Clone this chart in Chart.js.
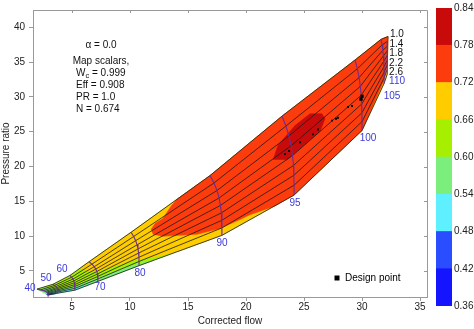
<!DOCTYPE html>
<html>
<head>
<meta charset="utf-8">
<script src="https://cdn.jsdelivr.net/npm/chart.js@4.4.1/dist/chart.umd.min.js"></script>
<style>
  body { margin: 0; background: #fff; }
  #wrap { position: relative; width: 474px; height: 329px; overflow: hidden; }
  canvas { position: absolute; top: 0; }
</style>
</head>
<body>
<div id="wrap">
  <canvas id="map" width="474" height="329" style="left:0"></canvas>
  <canvas id="cbar" width="70" height="329" style="left:420px"></canvas>
</div>
<script>
// compressor map table: one row per speed line, one column per beta line
const speeds = [40, 50, 60, 70, 80, 90, 95, 100, 105, 110];
const betas = [1.0, 1.2, 1.4, 1.6, 1.8, 2.0, 2.2, 2.4, 2.6];
const flowGrid = [
  [1.98, 2.29, 2.53, 2.70, 2.81, 2.88, 2.92, 2.93, 2.93],
  [3.36, 3.50, 3.61, 3.69, 3.74, 3.77, 3.78, 3.79, 3.79],
  [4.83, 4.97, 5.08, 5.16, 5.21, 5.24, 5.25, 5.26, 5.26],
  [6.47, 6.72, 6.92, 7.05, 7.14, 7.20, 7.23, 7.24, 7.24],
  [10.09, 10.32, 10.49, 10.61, 10.69, 10.74, 10.77, 10.78, 10.78],
  [16.90, 17.24, 17.50, 17.68, 17.80, 17.88, 17.91, 17.93, 17.93],
  [23.10, 23.44, 23.70, 23.89, 24.01, 24.09, 24.12, 24.14, 24.14],
  [29.40, 29.60, 29.75, 29.85, 29.93, 29.97, 29.99, 30.00, 30.00],
  [31.64, 31.73, 31.79, 31.84, 31.87, 31.89, 31.90, 31.90, 31.90],
  [32.24, 32.21, 32.19, 32.18, 32.17, 32.16, 32.16, 32.16, 32.16]
];
const prGrid = [
  [2.37, 2.26, 2.16, 2.05, 1.94, 1.84, 1.73, 1.63, 1.52],
  [3.07, 2.91, 2.75, 2.59, 2.44, 2.28, 2.12, 1.96, 1.80],
  [4.34, 4.08, 3.81, 3.55, 3.29, 3.02, 2.76, 2.49, 2.23],
  [6.31, 5.96, 5.60, 5.25, 4.90, 4.55, 4.20, 3.84, 3.49],
  [10.54, 9.94, 9.34, 8.74, 8.15, 7.55, 6.95, 6.35, 5.75],
  [18.70, 17.63, 16.55, 15.48, 14.41, 13.33, 12.26, 11.18, 10.11],
  [27.24, 25.82, 24.40, 22.98, 21.57, 20.15, 18.73, 17.31, 15.89],
  [35.32, 34.05, 32.79, 31.52, 30.25, 28.98, 27.72, 26.45, 25.18],
  [38.28, 37.49, 36.70, 35.90, 35.11, 34.32, 33.53, 32.73, 31.94],
  [38.70, 38.01, 37.33, 36.64, 35.96, 35.27, 34.58, 33.90, 33.21]
];

// efficiency contour bands, [flow, pr] outlines
const effLevels = [0.36, 0.42, 0.48, 0.54, 0.60, 0.66, 0.72, 0.78, 0.84];
const zoneBlue = [[2.75, 1.62], [2.93, 1.52], [3.60, 1.73], [3.10, 1.72]];
const zoneCyan = [[2.93, 1.52], [3.79, 1.80], [5.26, 2.23], [6.60, 3.08], [5.30, 2.45], [3.80, 2.00], [2.90, 1.75]];
const zoneLightGreen = [[1.98, 2.37], [2.93, 1.52], [3.79, 1.80], [5.26, 2.23], [7.24, 3.49], [9.00, 4.61],
  [10.78, 5.75], [12.00, 6.49], [10.80, 6.05], [9.00, 5.05], [7.20, 3.95], [5.30, 2.80], [3.80, 2.35], [2.70, 2.55]];
const zoneYellow = [[5.70, 5.39], [6.47, 6.31], [10.09, 10.54], [16.90, 18.70], [23.10, 27.24], [29.40, 35.32],
  [31.64, 38.28], [32.24, 38.70], [32.16, 33.21], [31.90, 31.94], [30.00, 25.18], [24.14, 15.89], [17.93, 10.11],
  [14.30, 7.90], [12.59, 7.15], [10.43, 6.59], [8.50, 5.60], [7.24, 4.95], [6.20, 5.00]];
const zoneRed = [[11.81, 10.96], [12.16, 11.80], [12.84, 12.51], [13.50, 14.20], [14.05, 15.30], [16.90, 18.70],
  [23.10, 27.24], [29.40, 35.32], [31.64, 38.28], [32.24, 38.70], [32.17, 34.40], [31.80, 32.00], [30.00, 25.18],
  [24.14, 15.89], [22.50, 14.34], [20.34, 13.07], [19.48, 12.37], [17.76, 11.10], [15.78, 10.25], [12.84, 9.97],
  [11.98, 10.25]];
const zoneDarkRed = [[22.33, 20.96], [22.76, 23.07], [24.22, 25.89], [25.52, 27.58], [26.55, 27.58],
  [26.81, 26.87], [26.38, 25.04], [24.40, 22.23], [23.53, 20.96]];

// operating line and design point
const opFlow = [23.36, 23.71, 24.66, 25.78, 26.21, 27.41, 27.76, 27.93, 28.79, 29.14];
const opPR = [21.80, 22.23, 23.49, 24.62, 25.32, 26.59, 26.87, 27.01, 28.56, 28.70];
const designFlow = [29.91, 30.00];
const designPR = [29.69, 30.10];

const xTicks = [5, 10, 15, 20, 25, 30, 35];
const yTicks = [5, 10, 15, 20, 25, 30, 35, 40];

const bandColors = ['#1414ff', '#2a4dff', '#5ef0ff', '#7cee7c', '#a6ef00', '#ffcc00', '#fc3c0c', '#c80a0a'];

Chart.defaults.font.family = "'Liberation Sans', Arial, sans-serif";
Chart.defaults.color = '#222';

const pts = arr => arr.map(p => ({x: p[0], y: p[1]}));
const surge = flowGrid.map((f, i) => [f[0], prGrid[i][0]]);
const choke = flowGrid.map((f, i) => [f[8], prGrid[i][8]]);
const envelope = surge.concat(choke.slice().reverse());

function zone(poly, color, order) {
  return {
    data: pts(poly), showLine: true, fill: 'shape', backgroundColor: color,
    borderColor: color, borderWidth: 0.5, pointRadius: 0, order: order
  };
}

const datasets = [
  zone(envelope, bandColors[4], 20),
  zone(zoneLightGreen, bandColors[3], 19),
  zone(zoneCyan, bandColors[2], 18),
  zone(zoneBlue, bandColors[1], 17),
  zone(zoneYellow, bandColors[5], 16),
  zone(zoneRed, bandColors[6], 15),
  zone(zoneDarkRed, bandColors[7], 14)
];

betas.forEach((b, k) => {
  datasets.push({
    data: speeds.map((s, i) => ({x: flowGrid[i][k], y: prGrid[i][k]})),
    showLine: true, borderColor: '#1a1a1a', borderWidth: 0.8, pointRadius: 0, order: 6
  });
});
speeds.forEach((s, i) => {
  datasets.push({
    data: betas.map((b, k) => ({x: flowGrid[i][k], y: prGrid[i][k]})),
    showLine: true, borderColor: '#6e2c92', borderWidth: 1.1, pointRadius: 0, order: 5
  });
});
datasets.push({
  data: opFlow.map((f, i) => ({x: f, y: opPR[i]})),
  pointStyle: 'rect', pointRadius: 1.3, backgroundColor: '#000', borderWidth: 0, order: 1
});
datasets.push({
  data: designFlow.map((f, i) => ({x: f, y: designPR[i]})),
  pointStyle: 'rect', pointRadius: 2.3, backgroundColor: '#000', borderWidth: 0, order: 0
});

// label offsets in px from the surge (first) or choke (last) end of each speed line
const speedLabelPos = {
  40: [0, -7, -1], 50: [0, -7, -6], 60: [0, -8, -6], 70: [8, 2, 6], 80: [8, 1, 8],
  90: [8, 0, 8], 95: [8, 1, 8], 100: [8, 6, 8], 105: [8, 8, 13], 110: [8, 10, 7]
};

const mapText = {
  id: 'mapText',
  afterDatasetsDraw(chart) {
    const {ctx, chartArea: a, scales: {x, y}} = chart;
    ctx.save();
    // frame on top and right
    ctx.strokeStyle = '#999';
    ctx.lineWidth = 1;
    ctx.beginPath();
    ctx.moveTo(a.left, a.top + 0.5); ctx.lineTo(a.right + 0.5, a.top + 0.5); ctx.lineTo(a.right + 0.5, a.bottom);
    xTicks.forEach(v => { const px = Math.round(x.getPixelForValue(v)) + 0.5; ctx.moveTo(px, a.top); ctx.lineTo(px, a.top + 3); });
    yTicks.forEach(v => { const py = Math.round(y.getPixelForValue(v)) + 0.5; ctx.moveTo(a.right, py); ctx.lineTo(a.right - 3, py); });
    ctx.stroke();

    ctx.textAlign = 'center';
    ctx.textBaseline = 'middle';
    ctx.font = "10px 'Liberation Sans', Arial, sans-serif";
    ctx.fillStyle = '#3a3ad8';
    speeds.forEach((s, i) => {
      const [k, dx, dy] = speedLabelPos[s];
      ctx.fillText(String(s), x.getPixelForValue(flowGrid[i][k]) + dx, y.getPixelForValue(prGrid[i][k]) + dy);
    });

    ctx.fillStyle = '#111';
    ctx.textAlign = 'left';
    const last = speeds.length - 1;
    betas.forEach((b, k) => {
      if (k % 2) return;
      ctx.fillText(b.toFixed(1), x.getPixelForValue(flowGrid[last][k]) + 2, y.getPixelForValue(prGrid[last][k]) - 2);
    });

    // map scalars note
    ctx.textAlign = 'center';
    ctx.fillText('\u03b1 = 0.0', 101, 45);
    ctx.fillText('Map scalars,', 101, 61);
    ctx.textAlign = 'left';
    ctx.fillText('W', 76, 73);
    let wx = 76 + ctx.measureText('W').width;
    ctx.font = "7.5px 'Liberation Sans', Arial, sans-serif";
    ctx.fillText('c', wx, 76);
    wx += ctx.measureText('c').width;
    ctx.font = "10px 'Liberation Sans', Arial, sans-serif";
    ctx.fillText(' = 0.999', wx, 73);
    ctx.fillText('Eff = 0.908', 76, 85);
    ctx.fillText('PR = 1.0', 76, 97);
    ctx.fillText('N = 0.674', 76, 109);

    // legend
    ctx.fillStyle = '#000';
    ctx.fillRect(334.5, 275.5, 5, 5);
    ctx.fillText('Design point', 345, 278);
    ctx.restore();
  }
};

new Chart(document.getElementById('map'), {
  type: 'scatter',
  data: {datasets: datasets},
  options: {
    responsive: false,
    animation: false,
    events: [],
    layout: {padding: {top: 4, right: 47, bottom: 0, left: 0}},
    elements: {line: {tension: 0}},
    plugins: {legend: {display: false}, tooltip: {enabled: false}},
    scales: {
      x: {
        type: 'linear', min: 1.64, max: 35.6,
        afterFit: s => { s.height = 32; },
        afterBuildTicks: s => { s.ticks = xTicks.map(v => ({value: v})); },
        ticks: {font: {size: 10}, color: '#222', padding: 0, maxRotation: 0, autoSkip: false},
        grid: {drawOnChartArea: false, tickLength: 4, color: '#999'},
        border: {color: '#999'},
        title: {display: true, text: 'Corrected flow', font: {size: 10}, color: '#222', padding: {top: 0, bottom: 2}}
      },
      y: {
        type: 'linear', min: 1.24, max: 42.5,
        afterFit: s => { s.width = 33; },
        afterBuildTicks: s => { s.ticks = yTicks.map(v => ({value: v})); },
        ticks: {font: {size: 10}, color: '#222', padding: 4, autoSkip: false},
        grid: {drawOnChartArea: false, tickLength: 4, color: '#999'},
        border: {color: '#999'},
        title: {display: true, text: 'Pressure ratio', font: {size: 10}, color: '#222', padding: {top: 0, bottom: 0}}
      }
    }
  },
  plugins: [mapText]
});

// colour bar
new Chart(document.getElementById('cbar'), {
  type: 'bar',
  data: {
    labels: ['eff'],
    datasets: bandColors.map((c, i) => ({
      data: [[effLevels[i], effLevels[i + 1]]],
      backgroundColor: c, borderWidth: 0, grouped: false,
      barPercentage: 1, categoryPercentage: 1
    }))
  },
  options: {
    responsive: false,
    animation: false,
    events: [],
    layout: {padding: {top: 6, bottom: 23, left: 16, right: 0}},
    plugins: {legend: {display: false}, tooltip: {enabled: false}},
    scales: {
      x: {display: false},
      y: {
        position: 'right', min: 0.36, max: 0.84,
        afterFit: s => { s.width = 38; },
        afterBuildTicks: s => { s.ticks = effLevels.map(v => ({value: v})); },
        ticks: {font: {size: 10}, color: '#222', padding: 2, callback: v => v.toFixed(2)},
        grid: {display: false, drawTicks: false},
        border: {display: false}
      }
    }
  }
});
</script>
</body>
</html>
